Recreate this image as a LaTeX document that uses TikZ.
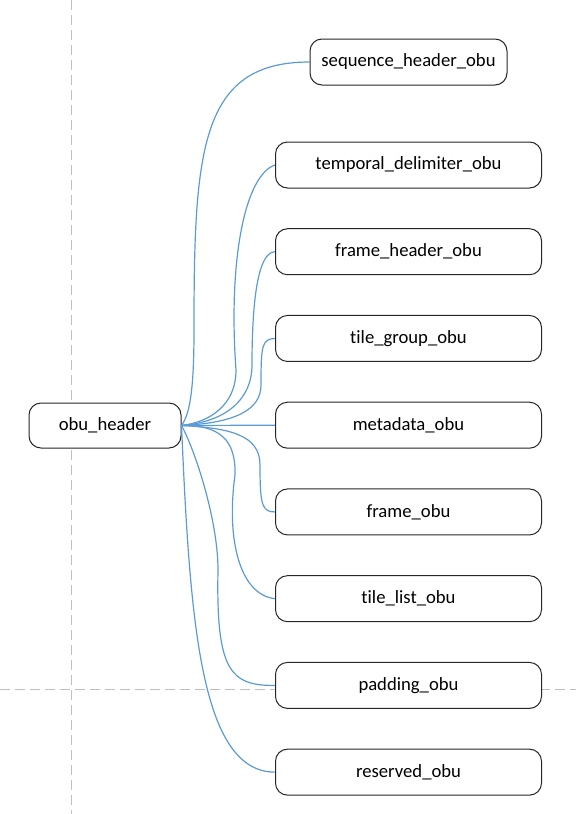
\documentclass[tikz,border=0pt]{standalone}
\usepackage{fontspec}
\setmainfont{Carlito}[Ligatures=NoCommon]
\usepackage{tikz}
\usetikzlibrary{positioning}
\definecolor{LinkBlue}{HTML}{5B9BD5}
\definecolor{GuideGray}{HTML}{BFBFBF}
\tikzset{
  % Box styles
  obubox/.style={rectangle, rounded corners=9pt, draw=black!85, line width=0.75pt, fill=white, minimum width=199.5pt, minimum height=34.5pt, inner sep=0pt, font=\fontsize{14}{16}\selectfont, align=center},
  rootbox/.style={obubox, minimum width=114pt, minimum height=33.75pt},
  % Line styles
  link/.style={LinkBlue, line width=0.9pt},
  guide/.style={GuideGray, line width=0.75pt, dash pattern=on 7.5pt off 3.75pt}
}

\begin{document}
\begin{tikzpicture}[x=0.75pt, y=-0.75pt]
  \useasboundingbox (0,0) rectangle (576,814);

  % Guides
  \coordinate (gtop) at (71,0);
  \coordinate (gbot) at (71,814);
  \coordinate (gleft) at (0,689);
  \coordinate (gright) at (576,689);
  \draw[guide] (gtop) -- (gbot);
  \draw[guide] (gleft) -- (gright);

  % Root
  \node[rootbox] (hdr) at (105,425.5) {obu\_header};

  % OBU types
  \node[obubox, minimum width=147.75pt] (seq) at (408.5,62) {sequence\_header\_obu};
  \node[obubox, below=42pt of seq] (temporal) {temporal\_delimiter\_obu};
  \node[obubox, below=29.8pt of temporal] (framehdr) {frame\_header\_obu};
  \node[obubox, below=29.8pt of framehdr] (tilegroup) {tile\_group\_obu};
  \node[obubox, below=29.8pt of tilegroup] (metadata) {metadata\_obu};
  \node[obubox, below=29.8pt of metadata] (frame) {frame\_obu};
  \node[obubox, below=29.8pt of frame] (tilelist) {tile\_list\_obu};
  \node[obubox, below=29.8pt of tilelist] (padding) {padding\_obu};
  \node[obubox, below=29.8pt of padding] (reserved) {reserved\_obu};

  % Links
  \draw[link] (hdr.east) .. controls (189,415) and (194,395) .. (194,330)
    .. controls (194,150) and (200,62) .. (seq.west);
  \draw[link] (hdr.east) .. controls (210,422) and (236,405) .. (236,370)
    .. controls (228,260) and (245,175) .. (temporal.west);
  \draw[link] (hdr.east) .. controls (225,422) and (252,400) .. (252,365)
    .. controls (252,300) and (258,252) .. (framehdr.west);
  \draw[link] (hdr.east) .. controls (235,423) and (261,410) .. (261,385)
    .. controls (261,345) and (262,339) .. (tilegroup.west);
  \draw[link] (hdr.east) -- (metadata.west);
  \draw[link] (hdr.east) .. controls (230,428) and (260,435) .. (260,465)
    .. controls (260,505) and (262,512) .. (frame.west);
  \draw[link] (hdr.east) .. controls (220,425) and (236,440) .. (235,475)
    .. controls (226,540) and (240,595) .. (tilelist.west);
  \draw[link] (hdr.east) .. controls (195,450) and (218,520) .. (218,570)
    .. controls (216,670) and (230,686) .. (padding.west);
  \draw[link] (hdr.east) .. controls (190,620) and (200,772) .. (reserved.west);
\end{tikzpicture}
\end{document}
